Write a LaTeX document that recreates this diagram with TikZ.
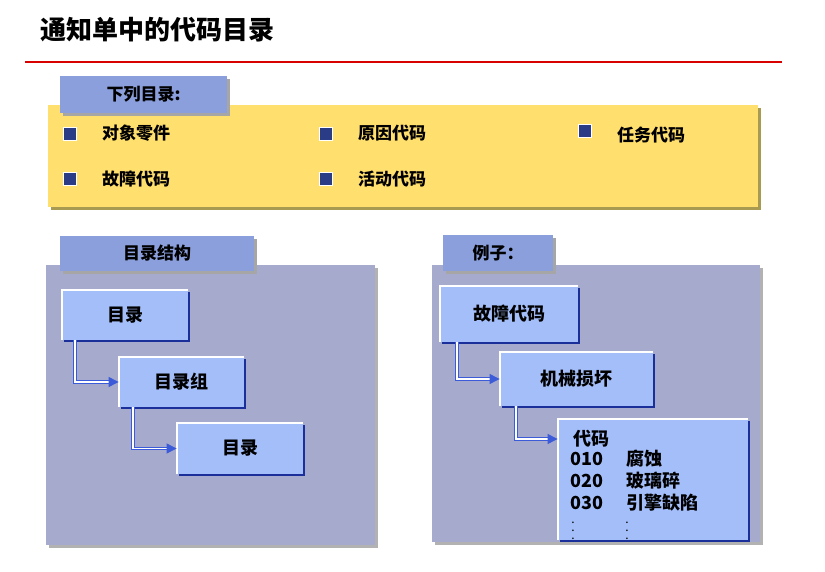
\documentclass[tikz,border=0pt]{standalone}
\usepackage{fontspec}
\setmainfont{Noto Sans CJK SC}
\usetikzlibrary{arrows.meta}
\definecolor{yel}{HTML}{FFDF6E}
\definecolor{yelsh}{HTML}{A89A50}
\definecolor{tabc}{HTML}{8A9FDC}
\definecolor{panelc}{HTML}{A6AACC}
\definecolor{boxc}{HTML}{A4BEFA}
\definecolor{dkb}{HTML}{1A2F9A}
\definecolor{bul}{HTML}{2A3C85}
\definecolor{arr}{HTML}{3B5BD8}
\begin{document}
\begin{tikzpicture}[x=0.5pt,y=-0.5pt,
 txt/.style={font=\fontsize{8.5}{10}\selectfont\bfseries},
 bx/.style={font=\fontsize{9}{11}\selectfont\bfseries},
 ln/.style={bx,anchor=west,inner sep=0},
 bullet/.style={fill=bul,draw=white,line width=0.4pt,minimum size=6.5pt,inner sep=0pt},
 conn/.style={draw=arr,double=white,double distance=0.6pt,line width=0.5pt,-{Triangle[length=5pt,width=5pt]}}]
\useasboundingbox (0,0) rectangle (825,572);
\node[anchor=west,font=\fontsize{13}{15}\selectfont\bfseries] (title) at (33,30) {通知单中的代码目录};
\draw[red!85!black,line width=1pt] (25,62) -- (782,62);
% yellow panel
\fill[yelsh] (51,108) rectangle (761,210);
\fill[yel] (48,105) rectangle (758,207);
\fill[gray!70] (63,79) rectangle (230,116);
\draw[white] (60,113) -- (60,76) -- (227,76);
\node[fill=tabc,minimum width=83.5pt,minimum height=18.5pt,inner sep=0,txt] (tab1) at (143.5,94.5) {下列目录:};
\node[bullet] (b1) at (70,134) {}; \node[txt,anchor=west] (t1) at (95,133) {对象零件};
\node[bullet] (b2) at (70,179) {}; \node[txt,anchor=west] (t2) at (95,179) {故障代码};
\node[bullet] (b3) at (326,134) {}; \node[txt,anchor=west] (t3) at (351,133) {原因代码};
\node[bullet] (b4) at (326,179) {}; \node[txt,anchor=west] (t4) at (351,179) {活动代码};
\node[bullet] (b5) at (585,131) {}; \node[txt,anchor=west] (t5) at (610,135) {任务代码};
% left panel
\fill[gray!60] (49,268) rectangle (378,548);
\fill[panelc] (46,265) rectangle (375,545);
\fill[gray!70] (63,239) rectangle (257,274);
\node[fill=tabc,minimum width=97pt,minimum height=17.5pt,inner sep=0,txt] (tab2) at (157,253.5) {目录结构};
% right panel
\fill[gray!60] (435,268) rectangle (763,545);
\fill[panelc] (432,265) rectangle (760,542);
\fill[gray!70] (446,238) rectangle (556,274);
\node[fill=tabc,minimum width=55pt,minimum height=18pt,inner sep=0,txt] (tab3) at (498,253) {例子：};
\tikzset{ibox/.style={fill=boxc,inner sep=0,bx}}
\newcommand{\mybox}[5]{%
 \fill[dkb] (#1+2,#2+2) rectangle (#3+2,#4+2);
 \node[ibox,minimum width={(#3-#1)*0.5pt},minimum height={(#4-#2)*0.5pt}] (#5) at ({(#1+#3)/2},{(#2+#4)/2}) {};
 \draw[white,line width=1pt] (#1,#4) -- (#1,#2) -- (#3,#2);}
\mybox{62}{290}{188}{340}{l1}\node[bx] at (l1) {目录};
\mybox{119}{357}{244}{407}{l2}\node[bx] at (l2) {目录组};
\mybox{177}{423}{303}{474}{l3}\node[bx] at (l3) {目录};
\mybox{440}{286}{578}{342}{r1}\node[bx] at (r1) {故障代码};
\mybox{500}{352}{653}{406}{r2}\node[bx] at (r2) {机械损坏};
\mybox{558}{419}{748}{540}{r3}
\node[ln] (h) at (573,439) {代码};
\node[ln] (n1) at (570,459) {010}; \node[ln] (d1) at (626,459) {腐蚀};
\node[ln] (n2) at (570,481) {020}; \node[ln] (d2) at (626,481) {玻璃碎};
\node[ln] (n3) at (570,503) {030}; \node[ln] (d3) at (626,503) {引擎缺陷};
\node[ln,font=\fontsize{6}{6}\selectfont] (v1) at (571,525) {$\vdots$};
\node[ln,font=\fontsize{6}{6}\selectfont] (v2) at (625,525) {$\vdots$};
\coordinate (c1) at (75,340); \coordinate (c2) at (133,407);
\coordinate (c3) at (457,342); \coordinate (c4) at (516,406);
\draw[conn] (c1) |- (l2.west);
\draw[conn] (c2) |- (l3.west);
\draw[conn] (c3) |- (r2.west);
\draw[conn] (c4) |- (r3.west |- h.west);
\end{tikzpicture}
\end{document}
